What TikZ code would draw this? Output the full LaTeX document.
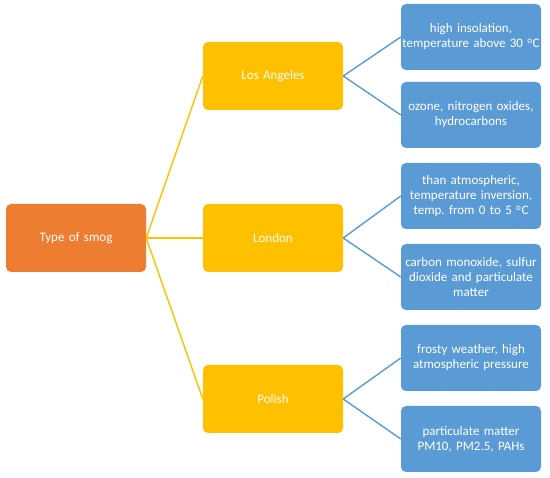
\documentclass[tikz,border=0pt]{standalone}
\usepackage{fontspec}
\setmainfont{Carlito}
\frenchspacing
\definecolor{smogorange}{HTML}{ED7D31}
\definecolor{smogyellow}{HTML}{FFC000}
\definecolor{smogblue}{HTML}{5B9BD5}
\begin{document}
\begin{tikzpicture}[x=1pt,y=-1pt,
  box/.style={rounded corners=5pt, minimum width=140pt, text width=138pt, align=center, text=white, inner sep=1pt, font=\fontsize{13}{15}\selectfont},
  rootbox/.style={box, fill=smogorange, minimum height=68pt},
  midbox/.style={box, fill=smogyellow, minimum height=68pt},
  leafbox/.style={box, fill=smogblue, minimum height=66pt},
  yline/.style={draw=smogyellow, line width=1.4pt},
  bline/.style={draw=smogblue, line width=1.4pt}]
\useasboundingbox (0,0) rectangle (550,478);
\node[rootbox] (root) at (76,238) {Type of smog};
\node[midbox] (la) at (273,76) {Los Angeles};
\node[midbox] (lon) at (273,238) {London};
\node[midbox] (pol) at (273,399) {Polish};
\node[leafbox] (l1) at (471,37) {high insolation,\\temperature above 30 \textsuperscript{o}C};
\node[leafbox] (l2) at (471,115) {ozone, nitrogen oxides,\\hydrocarbons};
\node[leafbox] (l3) at (471,196) {than atmospheric,\\temperature inversion,\\temp. from 0 to 5 \textsuperscript{o}C};
\node[leafbox] (l4) at (471,277) {carbon monoxide, sulfur\\dioxide and particulate\\matter};
\node[leafbox] (l5) at (471,358) {frosty weather, high\\atmospheric pressure};
\node[leafbox] (l6) at (471,439) {particulate matter\\PM10, PM2.5, PAHs};
\draw[yline] (root.east) -- (la.west);
\draw[yline] (root.east) -- (lon.west);
\draw[yline] (root.east) -- (pol.west);
\draw[bline] (la.east) -- (l1.west);
\draw[bline] (la.east) -- (l2.west);
\draw[bline] (lon.east) -- (l3.west);
\draw[bline] (lon.east) -- (l4.west);
\draw[bline] (pol.east) -- (l5.west);
\draw[bline] (pol.east) -- (l6.west);
\end{tikzpicture}
\end{document}
